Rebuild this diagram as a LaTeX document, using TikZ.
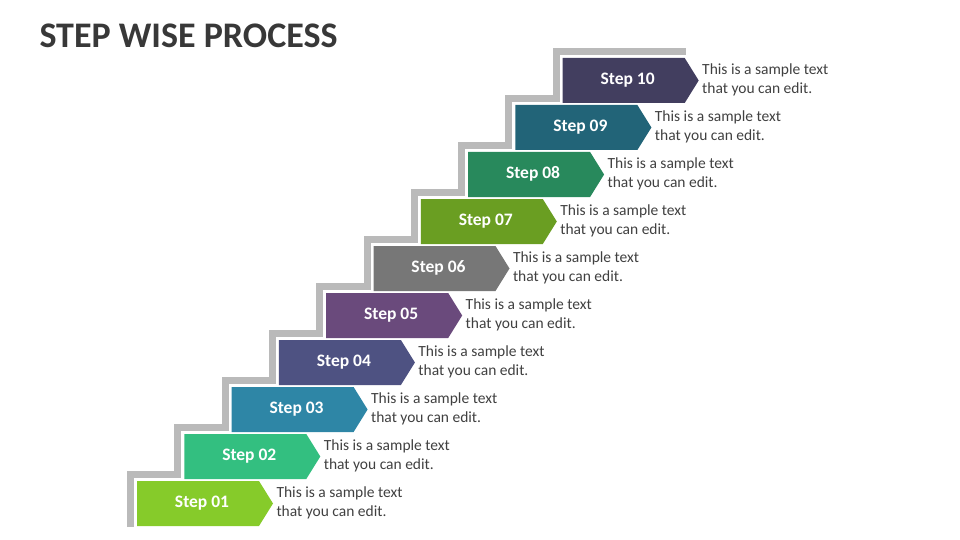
\documentclass[tikz,border=0pt]{standalone}
\usepackage{fontspec}
\setmainfont{Carlito}
\begin{document}
\begin{tikzpicture}[x=1pt,y=-1pt,
  stair/.style={draw=black!27,line width=7pt,line cap=butt,line join=miter},
  lbl/.style={text=white,font=\bfseries\fontsize{17.5}{20}\selectfont,anchor=center},
  desc/.style={text=black!75,font=\fontsize{15.5}{19}\selectfont,align=left,anchor=west}]
\useasboundingbox (0,0) rectangle (960,540);
\node[anchor=west,text=black!78,font=\bfseries\fontsize{36}{40}\selectfont] (title) at (36,36) {STEP WISE PROCESS};
\definecolor{c1}{HTML}{86CB2A}
\definecolor{c2}{HTML}{33BF80}
\definecolor{c3}{HTML}{2E86A6}
\definecolor{c4}{HTML}{4E5282}
\definecolor{c5}{HTML}{6A4A7C}
\definecolor{c6}{HTML}{777777}
\definecolor{c7}{HTML}{6A9E22}
\definecolor{c8}{HTML}{28895C}
\definecolor{c9}{HTML}{226478}
\definecolor{c10}{HTML}{423E5F}
% stair line
\draw[stair] (130.5,527)
  \foreach \i in {0,...,8}{ -- ({130.5+47.3*\i},{474.5-47*\i}) -- ({130.5+47.3*(\i+1)},{474.5-47*\i}) }
  -- ({130.5+47.3*9},{474.5-47*9}) -- (686,{474.5-47*9});
\foreach \i/\c/\t in {0/c1/01,1/c2/02,2/c3/03,3/c4/04,4/c5/05,5/c6/06,6/c7/07,7/c8/08,8/c9/09,9/c10/10}{
  \pgfmathsetmacro{\L}{137+47.3*\i}
  \pgfmathsetmacro{\T}{481-47*\i}
  \fill[\c] (\L,\T) -- (\L+122,\T) -- (\L+136,\T+22.5) -- (\L+122,\T+45) -- (\L,\T+45) -- cycle;
  \node[lbl] (s\t) at (\L+65,\T+22) {Step \t};
  \node[desc] (d\t) at (\L+136,\T+21.5) {This is a sample text\\that you can edit.};
}
\end{tikzpicture}
\end{document}
